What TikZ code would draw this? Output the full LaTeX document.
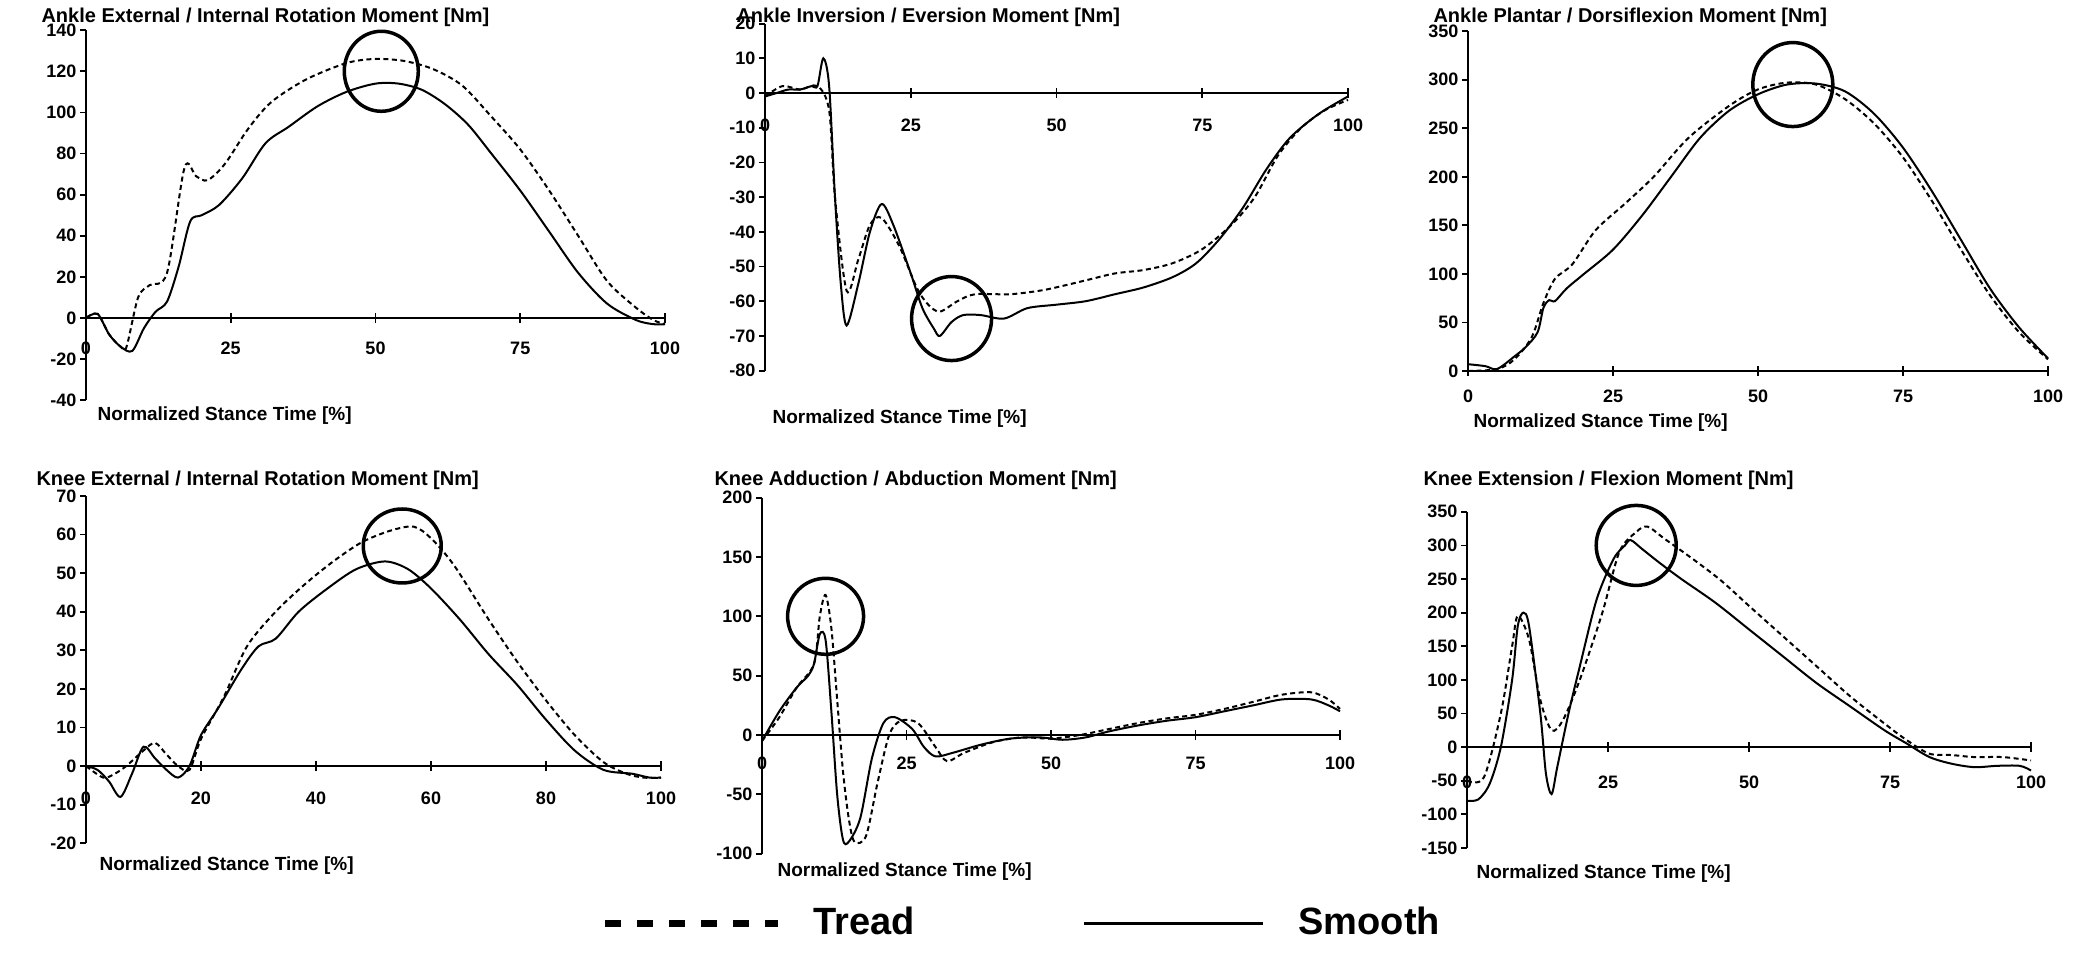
\documentclass[tikz,border=0pt]{standalone}
\usepackage{fontspec}
\setmainfont{Liberation Sans}
\begin{document}
\begin{tikzpicture}[x=1pt,y=-1pt,
  ax/.style={line width=1.8pt},
  sm/.style={line width=2pt},
  tr/.style={line width=2pt, dash pattern=on 5pt off 3.5pt},
  ring/.style={line width=3.5pt},
  tl/.style={font=\fontsize{18}{18}\selectfont\bfseries},
  ttl/.style={font=\fontsize{20}{20}\selectfont\bfseries, anchor=base west},
  xl/.style={font=\fontsize{19}{19}\selectfont\bfseries, anchor=base west},
  lg/.style={font=\fontsize{38}{38}\selectfont\bfseries, anchor=west}]
\useasboundingbox[fill=white] (0,0) rectangle (2085,970);
\newcommand\myaxes[6]{%
  \draw[ax] (0,#1)--(0,#3);
  \foreach \v in {#1,#2,...,#3}{\draw[ax] (0,\v)--++(-6pt,0); \node[tl,left,xshift=-6pt] at (0,\v) {\v};}
  \draw[ax] (0,0)--(100,0);
  \foreach \u in {#4}{\draw[ax] (\u,0)++(0,-5pt)--++(0,10pt); \node[tl] at (\u,0) [yshift=-#6pt] {\u};}
}
% Panel 1
\node[ttl] (t1) at (38,22) {Ankle External / Internal Rotation Moment [Nm]};
\node[xl] (n1) at (94,420) {Normalized Stance Time [\%]};
\begin{scope}[shift={(86,318)},x={(5.79pt,0)},y={(0,2.056pt)}]
\myaxes{-40}{-20}{140}{0,25,50,75,100}{}{30}
\draw[sm] plot[smooth,tension=0.5] coordinates {(0,0)(2,2)(4,-8)(6,-14)(8,-16)(10,-5)(12,3)(14,8)(16,25)(18,47)(20,50)(23,55)(27,68)(31,85)(35,93)(40,103)(45,110)(50,114)(54,114)(58,111)(62,104)(66,94)(70,80)(75,62)(80,42)(85,22)(90,7)(95,-1)(98,-3)(100,-3)};
\draw[tr] plot[smooth,tension=0.5] coordinates {(0,0)(2,2)(4,-8)(6,-14)(7,-14)(9,10)(11,16)(14,22)(17,73)(19,69)(21,67)(24,75)(28,92)(32,105)(38,116)(45,124)(50,126)(55,125)(60,121)(65,113)(70,98)(75,82)(80,62)(85,40)(90,18)(95,5)(98,-1)(100,-3)};
\draw[ring] (51,120) ellipse [x radius=37pt, y radius=40pt];
\end{scope}
% Panel 2
\node[ttl] (t2) at (733,22) {Ankle Inversion / Eversion Moment [Nm]};
\node[xl] (n2) at (769,423) {Normalized Stance Time [\%]};
\begin{scope}[shift={(765,93)},x={(5.83pt,0)},y={(0,3.47pt)}]
\myaxes{-80}{-70}{20}{0,25,50,75,100}{}{32}
\draw[sm] plot[smooth,tension=0.5] coordinates {(0,-1)(2,0)(4,1)(6,1)(8,2)(9,2)(10,10)(11,2)(12,-30)(13,-55)(14,-67)(16,-55)(18,-40)(20,-32)(22,-38)(25,-52)(27,-62)(29,-68)(30,-70)(32,-66)(34,-64)(37,-64)(41,-65)(45,-62)(50,-61)(55,-60)(60,-58)(65,-56)(70,-53)(74,-49)(78,-42)(82,-33)(86,-22)(90,-13)(95,-6)(100,-1)};
\draw[tr] plot[smooth,tension=0.5] coordinates {(0,-1)(3,2)(6,1)(9,2)(11,-5)(12,-30)(14,-57)(16,-48)(18,-38)(20,-36)(23,-44)(26,-56)(28,-61)(30,-63)(33,-60)(36,-58)(42,-58)(47,-57)(50,-56)(55,-54)(60,-52)(65,-51)(70,-49)(75,-45)(80,-38)(84,-30)(88,-18)(92,-10)(96,-5)(100,-2)};
\draw[ring] (32,-65) ellipse [x radius=40pt, y radius=42pt];
\end{scope}
% Panel 3
\node[ttl] (t3) at (1430,22) {Ankle Plantar / Dorsiflexion Moment [Nm]};
\node[xl] (n3) at (1470,427) {Normalized Stance Time [\%]};
\begin{scope}[shift={(1468,371)},x={(5.8pt,0)},y={(0,0.971pt)}]
\myaxes{0}{50}{350}{0,25,50,75,100}{}{25}
\draw[sm] plot[smooth,tension=0.5] coordinates {(0,7)(3,5)(5,2)(8,15)(10,25)(12,40)(13,65)(14,73)(15,72)(17,85)(20,100)(25,125)(30,160)(35,200)(40,240)(45,268)(50,285)(55,295)(60,296)(65,288)(70,265)(75,230)(80,185)(85,135)(90,85)(95,45)(100,13)};
\draw[tr] plot[smooth,tension=0.5] coordinates {(0,0)(5,2)(8,12)(11,35)(13,70)(15,95)(18,110)(22,145)(27,172)(32,200)(38,240)(45,273)(50,290)(55,297)(60,295)(65,280)(70,255)(75,220)(80,175)(85,125)(90,78)(95,40)(100,12)};
\draw[ring] (56,295) ellipse [x radius=40pt, y radius=42pt];
\end{scope}
% Panel 4
\node[ttl] (t4) at (33,485) {Knee External / Internal Rotation Moment [Nm]};
\node[xl] (n4) at (96,870) {Normalized Stance Time [\%]};
\begin{scope}[shift={(86,766)},x={(5.75pt,0)},y={(0,3.86pt)}]
\myaxes{-20}{-10}{70}{0,20,40,60,80,100}{}{32}
\draw[sm] plot[smooth,tension=0.5] coordinates {(0,0)(2,-1)(4,-4)(6,-8)(8,-2)(10,5)(12,2)(14,-1)(16,-3)(18,0)(20,8)(23,15)(27,25)(30,31)(33,33)(37,40)(42,46)(47,51)(52,53)(56,51)(60,46)(65,38)(70,29)(75,21)(80,12)(85,4)(90,-1)(95,-2)(98,-3)(100,-3)};
\draw[tr] plot[smooth,tension=0.5] coordinates {(0,0)(3,-3)(5,-2)(7,0)(10,4)(12,6)(14,3)(16,0)(18,-1)(20,7)(24,18)(28,31)(33,40)(38,47)(43,53)(48,58)(53,61)(57,62)(60,59)(64,52)(70,38)(75,27)(80,17)(85,8)(90,1)(94,-2)(97,-3)(100,-3)};
\draw[ring] (55,57) ellipse [x radius=39pt, y radius=37pt];
\end{scope}
% Panel 5
\node[ttl] (t5) at (711,485) {Knee Adduction / Abduction Moment [Nm]};
\node[xl] (n5) at (774,876) {Normalized Stance Time [\%]};
\begin{scope}[shift={(762,735)},x={(5.78pt,0)},y={(0,1.187pt)}]
\myaxes{-100}{-50}{200}{0,25,50,75,100}{}{28}
\draw[sm] plot[smooth,tension=0.5] coordinates {(0,-5)(3,20)(6,40)(8,50)(9,60)(10,85)(11,80)(12,20)(13,-50)(14,-88)(15,-90)(17,-70)(19,-20)(21,10)(23,15)(26,5)(28,-10)(30,-18)(33,-15)(38,-8)(43,-3)(48,-2)(52,-4)(56,-2)(60,3)(65,8)(70,12)(75,15)(80,20)(85,25)(90,30)(95,30)(98,25)(100,20)};
\draw[tr] plot[smooth,tension=0.5] coordinates {(0,-5)(3,15)(6,40)(9,60)(10,100)(11,118)(12,90)(13,30)(14,-30)(15,-70)(16,-90)(18,-85)(20,-40)(22,0)(24,12)(27,10)(30,-10)(32,-22)(35,-15)(40,-6)(45,-2)(50,-3)(55,0)(60,5)(65,10)(70,14)(75,17)(80,22)(85,28)(90,34)(95,36)(98,30)(100,22)};
\draw[ring] (11,100) ellipse [x radius=38pt, y radius=38pt];
\end{scope}
% Panel 6
\node[ttl] (t6) at (1420,485) {Knee Extension / Flexion Moment [Nm]};
\node[xl] (n6) at (1473,878) {Normalized Stance Time [\%]};
\begin{scope}[shift={(1467,747)},x={(5.64pt,0)},y={(0,0.672pt)}]
\myaxes{-150}{-100}{350}{0,25,50,75,100}{}{35}
\draw[sm] plot[smooth,tension=0.5] coordinates {(0,-80)(2,-78)(4,-55)(6,0)(8,100)(9,180)(10,200)(11,180)(13,50)(14,-40)(15,-70)(16,-30)(18,50)(20,120)(23,220)(26,280)(28,300)(29,308)(31,295)(34,275)(38,250)(44,215)(50,175)(56,135)(62,95)(68,60)(74,25)(78,5)(82,-15)(86,-25)(90,-30)(94,-28)(98,-28)(100,-35)};
\draw[tr] plot[smooth,tension=0.5] coordinates {(0,-50)(3,-45)(6,50)(8,150)(9,195)(11,160)(13,70)(15,25)(17,40)(20,100)(24,200)(27,290)(30,320)(32,328)(35,310)(40,280)(45,248)(50,210)(56,165)(62,120)(68,75)(74,35)(78,10)(82,-10)(86,-12)(90,-15)(95,-15)(100,-20)};
\draw[ring] (30,300) ellipse [x radius=40pt, y radius=40pt];
\end{scope}
% Legend
\coordinate (la) at (605,923); \coordinate (lb) at (778,923);
\coordinate (lc) at (1084,923); \coordinate (ld) at (1263,923);
\draw[line width=7pt, dash pattern=on 16pt off 16pt] (la)--(lb);
\node[lg] (tread) at (810,921) {Tread};
\draw[line width=3pt] (lc)--(ld);
\node[lg] (smooth) at (1295,921) {Smooth};
\end{tikzpicture}
\end{document}
